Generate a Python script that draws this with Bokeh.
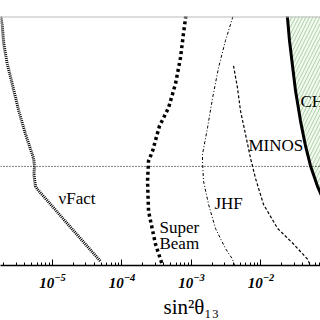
from bokeh.plotting import figure
from bokeh.models import Span, Range1d, ColumnDataSource, Title
from bokeh.embed import file_html
from bokeh.resources import INLINE
from bokeh.core.properties import value

# ---- data (sin^2 theta13 sensitivity vs delta m^2) ----
nufact_dm2 = [0.0100, 0.00920, 0.00778, 0.00646, 0.00537, 0.00418, 0.00337, 0.00270,
              0.00251, 0.00233, 0.00208, 0.00202, 0.00104]
nufact_s2 = [1.80e-6, 1.89e-6, 1.99e-6, 2.23e-6, 2.63e-6, 3.27e-6, 4.09e-6, 5.33e-6,
             5.51e-6, 5.40e-6, 5.69e-6, 6.08e-6, 4.90e-5]

superbeam_dm2 = [0.0101, 0.00854, 0.00684, 0.00537, 0.00430, 0.00363, 0.00288, 0.00263,
                 0.00218, 0.00165, 0.00122, 0.00100]
superbeam_s2 = [8.3e-4, 7.67e-4, 6.95e-4, 5.89e-4, 4.67e-4, 3.46e-4, 2.75e-4, 2.41e-4,
                2.33e-4, 2.41e-4, 3.03e-4, 3.83e-4]

jhf_dm2 = [0.0100, 0.00800, 0.00623, 0.00471, 0.00357, 0.00280, 0.00263, 0.00218,
           0.00176, 0.00141, 0.00117, 0.00106, 0.00100]
jhf_s2 = [3.95e-3, 3.08e-3, 2.45e-3, 2.01e-3, 1.70e-3, 1.44e-3, 1.44e-3, 1.49e-3,
          1.76e-3, 2.21e-3, 3.08e-3, 3.89e-3, 4.16e-3]

minos_dm2 = [0.00634, 0.00517, 0.00418, 0.00337, 0.00270, 0.00224, 0.00176, 0.00141,
             0.00122, 0.00106, 0.00100]
minos_s2 = [4.02e-3, 4.59e-3, 5.07e-3, 5.98e-3, 7.06e-3, 8.33e-3, 1.086e-2, 1.728e-2,
            2.935e-2, 4.667e-2, 5.16e-2]

chooz_dm2 = [0.0102, 0.00800, 0.00634, 0.00503, 0.00381, 0.00302, 0.00251, 0.00208,
             0.00195, 0.00158, 0.00100]
chooz_s2 = [0.0238, 0.0257, 0.0284, 0.0314, 0.0370, 0.0437, 0.0516, 0.0650,
            0.0718, 0.100, 0.200]

dm2_reference = 0.0025

label_text = ["\u03bdFact", "Super", "Beam", "JHF", "MINOS", "CHOOZ"]
label_s2 = [1.22e-5, 3.46e-4, 3.46e-4, 2.14e-3, 6.61e-3, 0.0370]
label_dm2 = [0.00186, 0.00142, 0.00123, 0.00178, 0.00302, 0.00454]

x_title = "sin\u00b2\u03b8\u2081\u2083"

p = figure(width=320, height=320, x_axis_type="log", y_axis_type="log",
           x_range=Range1d(1.786e-6, 0.0718), y_range=Range1d(1e-3, 1e-2),
           output_backend="svg", toolbar_location=None, y_axis_location=None,
           min_border_left=0, min_border_right=0, min_border_top=16,
           min_border_bottom=0)
p.outline_line_color = None
p.grid.visible = False
p.background_fill_color = "white"
p.border_fill_color = "white"

# excluded region (CHOOZ)
p.patch(chooz_s2 + [1.0, 1.0], chooz_dm2 + [0.001, 0.0102],
        fill_color="#f4faf1", line_color=None,
        hatch_pattern="/", hatch_color="#a9cfa3", hatch_scale=7, hatch_weight=1)
p.line(chooz_s2, chooz_dm2, line_color="black", line_width=3)

p.line(nufact_s2, nufact_dm2, line_color="black", line_width=3, line_dash="1 1")
p.line(superbeam_s2, superbeam_dm2, line_color="black", line_width=3.5, line_dash="3 3")
p.line(jhf_s2, jhf_dm2, line_color="black", line_width=1, line_dash="3 2 1 2")
p.line(minos_s2, minos_dm2, line_color="black", line_width=1.2, line_dash="3 2")

p.add_layout(Span(location=dm2_reference, dimension="width", line_color="black",
                  line_width=1, line_dash="1 2"))
p.add_layout(Span(location=1e-2, dimension="width", line_color="#bbbbbb", line_width=2))

src = ColumnDataSource(dict(x=label_s2, y=label_dm2, t=label_text))
p.text(x="x", y="y", text="t", source=src, text_font=value("Liberation Serif"),
       text_font_size="17px", text_align="left", text_baseline="middle",
       text_color="black")

ax = p.xaxis[0]
ax.ticker.num_minor_ticks = 10
ax.axis_line_color = "black"
ax.axis_line_width = 1.5
ax.major_tick_in = 6
ax.major_tick_out = 0
ax.minor_tick_in = 3
ax.minor_tick_out = 0
ax.major_tick_line_color = "black"
ax.minor_tick_line_color = "black"
ax.major_label_text_font = "Liberation Serif"
ax.major_label_text_font_style = "bold italic"
ax.major_label_text_font_size = "15px"
ax.major_label_text_color = "black"
ax.major_label_standoff = 8

p.add_layout(Title(text=x_title, align="left", offset=163, text_font="Liberation Serif",
                   text_font_size="21px", text_font_style="normal", text_color="black",
                   standoff=4), "below")

open("out.html", "w").write(file_html(p, INLINE))
